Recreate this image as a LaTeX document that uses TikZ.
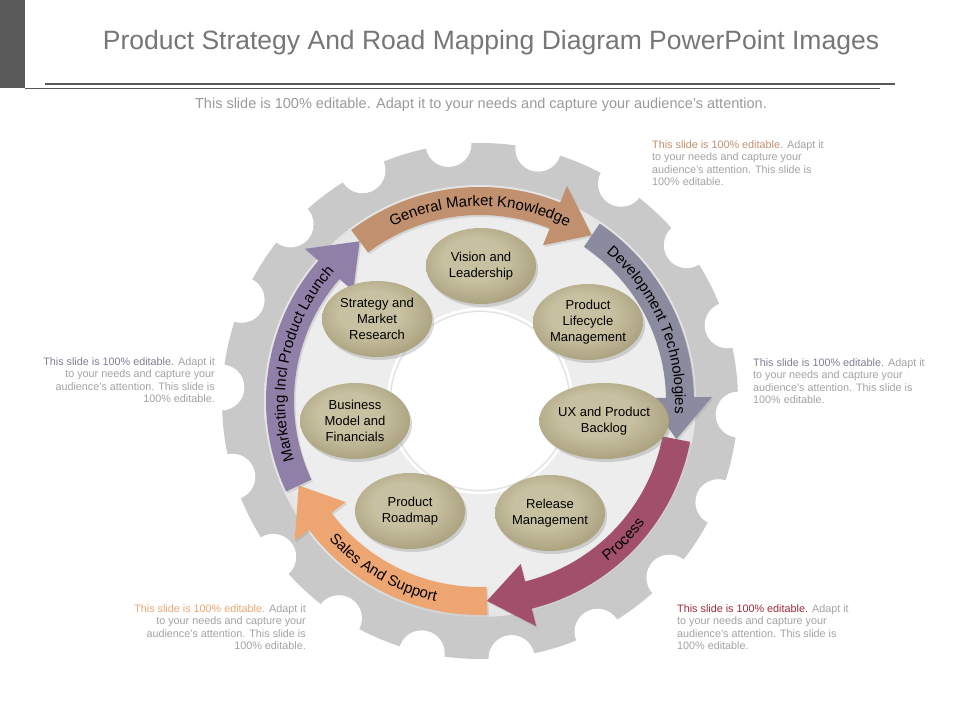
\documentclass[tikz,border=0pt]{standalone}
\usepackage{fontspec}
\setmainfont{Liberation Sans}
\usetikzlibrary{decorations.text}
\usetikzlibrary{shadows}
\usetikzlibrary{shapes.geometric}
\definecolor{psbar}{HTML}{595959}
\definecolor{psink}{HTML}{767676}
\definecolor{psmuted}{HTML}{9A9A9A}
\definecolor{psnotegray}{HTML}{A3A3A3}
\definecolor{psdiskin}{HTML}{EDEDED}
\definecolor{psdiskmid}{HTML}{E2E2E2}
\definecolor{psdiskout}{HTML}{D2D2D2}
\definecolor{psgearrim}{HTML}{C9C9C9}
\definecolor{pstan}{HTML}{C0906F}
\definecolor{psslate}{HTML}{8B8BA0}
\definecolor{psslatetext}{HTML}{7E7E96}
\definecolor{psrose}{HTML}{A24F6B}
\definecolor{psred}{HTML}{9E2A3A}
\definecolor{psorange}{HTML}{EDA571}
\definecolor{pslilac}{HTML}{9080A8}
\definecolor{pseggin}{HTML}{C8C1A1}
\definecolor{pseggmid}{HTML}{A39A76}
\definecolor{pseggout}{HTML}{786F50}
\pgfdeclareradialshading{psdiskshade}{\pgfpoint{0bp}{0bp}}{%
  color(0bp)=(psdiskin); color(21bp)=(psdiskin); color(26bp)=(psdiskmid);
  color(44bp)=(psdiskout); color(50bp)=(psdiskout)}
\pgfdeclareradialshading{pseggshade}{\pgfpoint{-4bp}{6bp}}{%
  color(0bp)=(pseggin); color(14bp)=(pseggin); color(32bp)=(pseggmid);
  color(50bp)=(pseggout)}
\newcommand{\psarc}{\fontsize{15}{17}\selectfont}
\newcommand{\psnotetext}[1]{\textcolor{#1}{This slide is 100\% editable.}
  Adapt it\\ to your needs and capture your\\ audience's attention. This
  slide is\\ 100\% editable.}
\tikzset{
  pstitle/.style={anchor=base, font=\fontsize{26.5}{32}\selectfont,
    text=psink},
  pssubtitle/.style={anchor=base, font=\fontsize{14.5}{17}\selectfont,
    text=psmuted},
  psnote/.style={font=\fontsize{10.8}{12.5}\selectfont, text=psnotegray,
    inner sep=0pt},
  psegg/.style={ellipse, shade, shading=pseggshade, minimum width=110pt,
    minimum height=76pt, inner sep=0pt, align=center,
    font=\fontsize{13}{16}\selectfont, text=black,
    drop shadow={opacity=0.3, shadow xshift=2pt, shadow yshift=-3pt}},
  pslabel/.style={decorate, decoration={text along path, text align=center}},
}

\begin{document}
\begin{tikzpicture}[x=1pt, y=1pt]
\useasboundingbox (0,0) rectangle (960,720);
\fill[white] (0,0) rectangle (960,720);

% Header.
\fill[psbar] (0,632) rectangle (25,720);
\draw[psbar, line width=2.2pt] (45,636) -- (895,636);
\draw[psbar, line width=1pt] (25,631.7) -- (880,631.7);
\node[pstitle] (title) at (491,670)
  {Product Strategy And Road Mapping Diagram PowerPoint Images};
\node[pssubtitle] (subtitle) at (481,611)
  {This slide is 100\% editable. Adapt it to your needs and capture your
   audience's attention.};

% Gear with notched rim.
\begin{scope}[shift={(480,319)}]
\fill[psgearrim] (0,0) circle[radius=258];
\shade[shading=psdiskshade] (0,0) circle[radius=216];
\foreach \k in {0,...,17}
  \fill[white] ({-3+20*\k}:259) circle[radius=23];
\fill[white] (0,0) circle[radius=89];
\draw[black!12, line width=0.8pt] (0,0) circle[radius=89.5];
\draw[white, line width=2.5pt] (0,0) circle[radius=92];

% Ring of arrows, clockwise.
\foreach \from/\to/\col in {127/56/pstan, 56/-11/psslate, -11/-88/psrose,
    -88/-155/psorange, 205/127/pslilac}{
  \pgfmathsetmacro{\hb}{\to+12}
  \fill[\col, drop shadow={opacity=0.2, shadow xshift=1.5pt,
      shadow yshift=-2pt}]
    (\from:214) arc[start angle=\from, end angle=\hb, radius=214]
    -- (\hb:232) -- (\to:200) -- (\hb:168) -- (\hb:186)
    arc[start angle=\hb, end angle=\from, radius=186] -- cycle;
}

% Arrow labels.
\path[pslabel, decoration={text={|\psarc|General Market Knowledge}}]
  (135:195) arc[start angle=135, end angle=45, radius=195];
\path[pslabel, decoration={text={|\psarc|Development Technologies}}]
  (68:195) arc[start angle=68, end angle=-22, radius=195];
\path[pslabel, decoration={text={|\psarc|Process}}]
  (-89:205) arc[start angle=-89, end angle=1, radius=205];
\path[pslabel, decoration={text={|\psarc|Sales And Support}}]
  (195:205) arc[start angle=195, end angle=285, radius=205];
\path[pslabel, decoration={text={|\psarc|Marketing Incl Product Launch}}]
  (213:195) arc[start angle=213, end angle=123, radius=195];

% Inner ellipses.
\node[psegg] (vision) at (1,135) {Vision and\\Leadership};
\node[psegg] (lifecycle) at (108,79) {Product\\Lifecycle\\Management};
\node[psegg] (uxbacklog) at (124,-20) {UX and Product\\Backlog};
\node[psegg] (release) at (70,-112) {Release\\Management};
\node[psegg] (roadmap) at (-70,-110) {Product\\Roadmap};
\node[psegg] (business) at (-125,-20) {Business\\Model and\\Financials};
\node[psegg] (strategy) at (-103,82) {Strategy and\\Market\\Research};
\end{scope}

% Side notes.
\node[psnote, anchor=north west, align=left] (notetr) at (652,580)
  {\psnotetext{pstan}};
\node[psnote, anchor=north east, align=right] (notel) at (215,363)
  {\psnotetext{psslatetext}};
\node[psnote, anchor=north west, align=left] (noter) at (753,362)
  {\psnotetext{psslatetext}};
\node[psnote, anchor=north east, align=right] (notebl) at (306,116)
  {\psnotetext{psorange}};
\node[psnote, anchor=north west, align=left] (notebr) at (677,116)
  {\psnotetext{psred}};

\end{tikzpicture}
\end{document}
